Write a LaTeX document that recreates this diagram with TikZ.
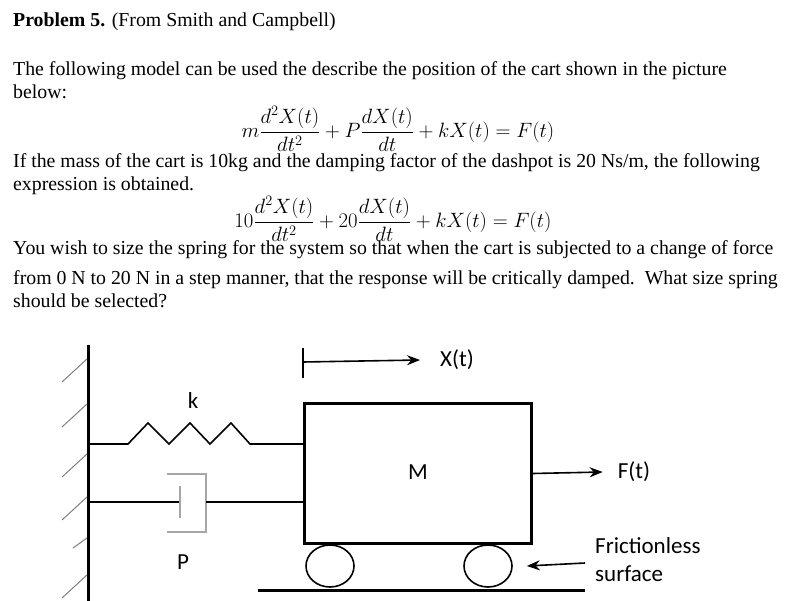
\documentclass[tikz,border=0pt]{standalone}
\usepackage{amsmath}
\usepackage{fontspec}
\setmainfont{Liberation Serif}
\newfontfamily\lblfont{Carlito}
\usetikzlibrary{arrows.meta,shapes.geometric}
\begin{document}
\begin{tikzpicture}[x=1pt,y=-1pt,
  txt/.style={anchor=base west,inner sep=0,font=\fontsize{19.8}{23}\selectfont},
  eqn/.style={inner sep=0,font=\fontsize{19.5}{23}\selectfont},
  lbl/.style={inner sep=0,font=\lblfont\fontsize{23}{26}\selectfont},
  hatch/.style={gray,line width=1pt},
  mech/.style={line width=1.6pt},
  thin/.style={gray!70,line width=1.4pt},
  heavy/.style={line width=3pt},
  arr/.style={line width=1.6pt,-{Stealth[length=13pt,width=10pt]}}]
\useasboundingbox (0,0) rectangle (805,601);
\node[txt] (t1) at (13,27) {\textbf{Problem 5.} (From Smith and Campbell)};
\node[txt] (t2) at (13,76) {The following model can be used the describe the position of the cart shown in the picture};
\node[txt] (t3) at (13,99) {below:};
\node[eqn] (e1) at (398,129) {$m\dfrac{d^2X(t)}{dt^2}+P\dfrac{dX(t)}{dt}+kX(t)=F(t)$};
\node[txt] (t4) at (13,168) {If the mass of the cart is 10kg and the damping factor of the dashpot is 20 Ns/m, the following};
\node[txt] (t5) at (13,191) {expression is obtained.};
\node[eqn] (e2) at (393,219) {$10\dfrac{d^2X(t)}{dt^2}+20\dfrac{dX(t)}{dt}+kX(t)=F(t)$};
\node[txt] (t6) at (13,255) {You wish to size the spring for the system so that when the cart is subjected to a change of force};
\node[txt] (t7) at (13,285) {from 0 N to 20 N in a step manner, that the response will be critically damped.\ \ What size spring};
\node[txt] (t8) at (13,308) {should be selected?};
% wall
\coordinate (wt) at (88,345); \coordinate (wb) at (88,601);
\draw[heavy] (wt) -- (wb);
\foreach \y in {382,427,477,520,598} \draw[hatch] (62,\y) -- (87,\y-23);
\draw[hatch] (73,548) -- (87,538);
% cart
\node[draw,heavy,minimum width=227pt,minimum height=140pt,inner sep=0,anchor=north west] (cart) at (303,402) {};
\node[lbl] (m) at (418,472) {M};
% spring
\coordinate (s0) at (88,444); \coordinate (s1) at (303,444);
\draw[mech] (s0) -- (128,444) -- (148,423) -- (169,444) -- (190,423) -- (210,444) -- (231,423) -- (250,444) -- (s1);
\node[lbl] (k) at (193,401) {k};
% dashpot
\coordinate (d0) at (88,502); \coordinate (d1) at (303,502);
\draw[mech] (d0) -- (180,502);
\draw[thin] (180,486) -- (180,518);
\draw[thin] (167,474) -- (206,474) -- (206,532) -- (167,532);
\draw[mech] (206,502) -- (d1);
\node[lbl] (p) at (183,562) {P};
% wheels and ground
\node[draw,mech,ellipse,minimum width=48pt,minimum height=42pt,inner sep=0] (w1) at (330,566) {};
\node[draw,mech,ellipse,minimum width=48pt,minimum height=42pt,inner sep=0] (w2) at (488,566) {};
\draw[heavy] (258,590) -- (585,590);
\coordinate (fa) at (585,563);
\draw[arr] (fa) -- ([xshift=14pt]w2.east);
% force
\node[lbl] (ft) at (634,472) {F(t)};
\draw[arr] (cart.east) -- ([xshift=-15pt]ft.west);
% displacement
\draw[mech] (303,348) -- (303,378);
\node[lbl] (xt) at (457,360) {X(t)};
\draw[arr] (303,362) -- ([xshift=-20pt]xt.west);
\node[lbl,anchor=west,align=left] (fs) at (595,560) {Frictionless\\[2pt]surface};
\end{tikzpicture}
\end{document}
